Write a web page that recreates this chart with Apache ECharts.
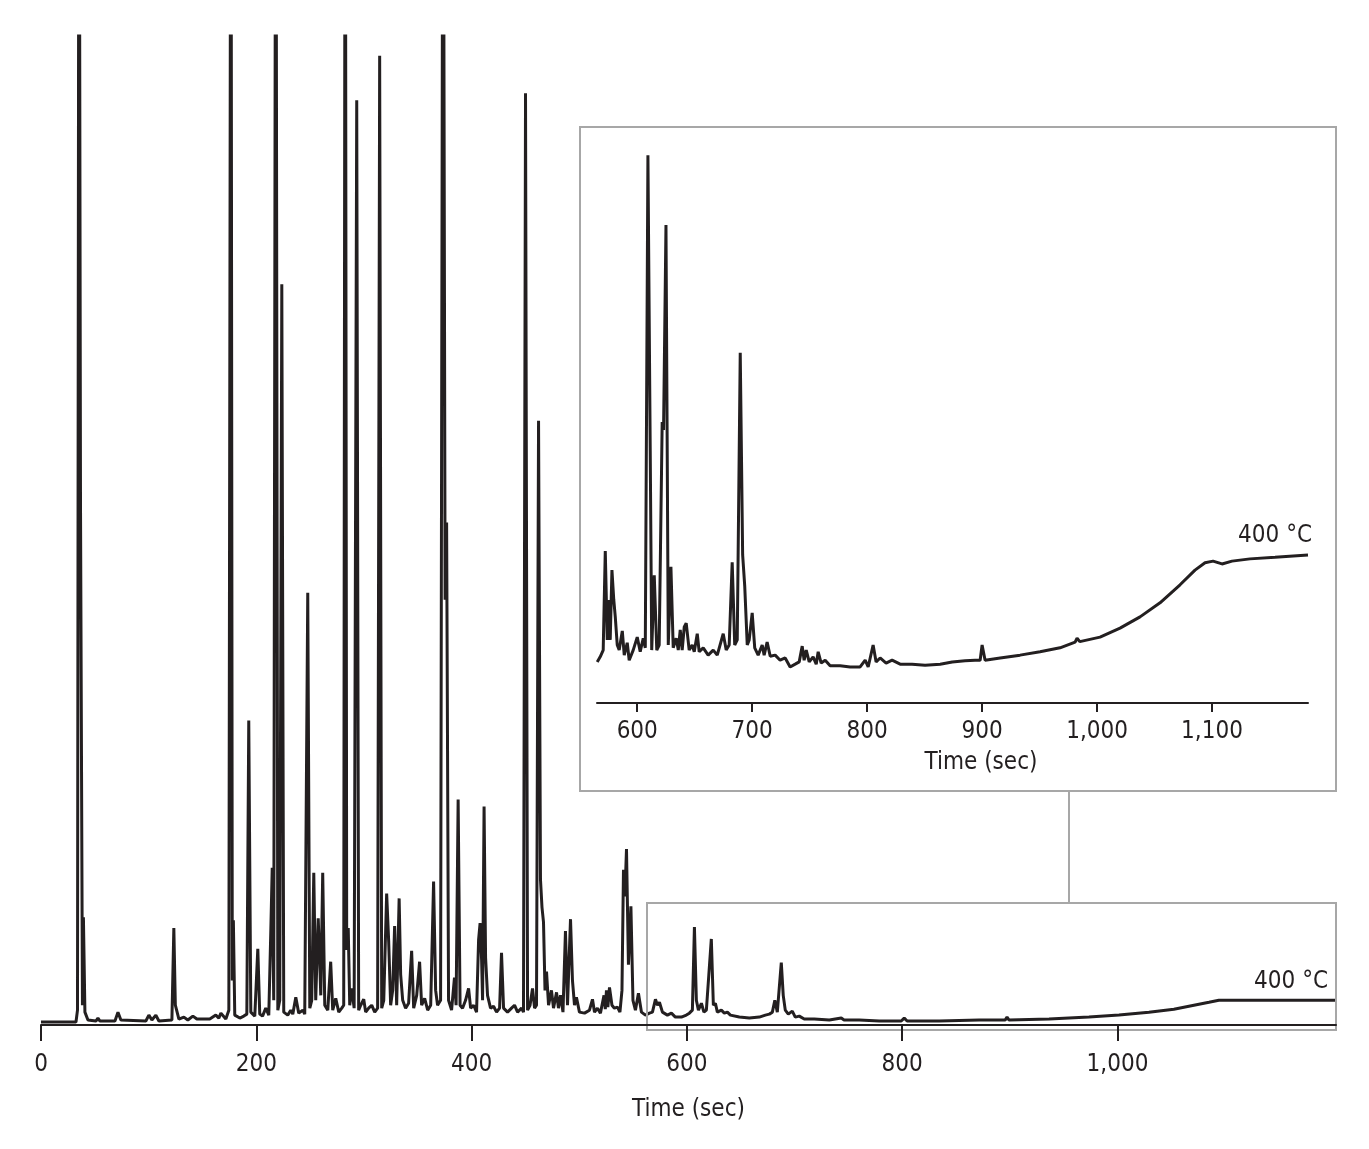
<!DOCTYPE html>
<html>
<head>
<meta charset="utf-8">
<script src="https://cdn.jsdelivr.net/npm/echarts@6/dist/echarts.min.js"></script>
<style>
  html, body { margin: 0; padding: 0; background: #fff; }
  #chart { width: 1369px; height: 1149px; }
</style>
</head>
<body>
<div id="chart"></div>
<script>
// full run, time in seconds and detector signal (arbitrary units, 100 = top of plot)
const mainTime = [
  0, 32.5, 33.9, 35.3, 36.7, 37.6, 38.5, 39.4, 40.8, 43.6, 51.0, 52.9, 54.8, 68.7, 71.5, 74.2,
  97.4, 100.2, 103.0, 106.7, 109.5, 121.6, 123.4, 124.8, 126.2, 128.1, 132.7, 136.4, 141.1, 144.8,
  156.8, 162.4, 165.2, 167.1, 171.7, 174.5, 176.4, 177.7, 178.7, 180.0, 184.7, 188.4, 191.2, 193.0,
  194.9, 198.6, 201.4, 203.2, 205.8, 208.8, 211.6, 213.5, 214.8, 216.2, 218.1, 220.0, 221.8, 223.7,
  225.5, 229.2, 232.0, 233.9, 236.7, 239.4, 243.2, 245.0, 247.8, 249.7, 251.5, 253.4, 255.2, 257.5,
  258.9, 259.9, 261.7, 263.6, 266.4, 269.1, 271.0, 273.8, 276.6, 279.4, 281.2, 282.6, 284.0, 285.4,
  286.8, 288.6, 290.9, 293.3, 295.1, 297.0, 299.8, 301.6, 304.4, 307.2, 310.0, 312.7, 314.6, 316.5,
  318.4, 321.1, 323.0, 324.8, 326.7, 328.5, 330.4, 332.7, 334.1, 336.0, 338.7, 341.5, 344.3, 346.2,
  349.0, 351.7, 353.6, 356.4, 359.2, 362.0, 364.7, 366.6, 368.4, 371.2, 373.5, 375.4, 376.8, 378.6,
  381.4, 384.1, 385.6, 387.5, 389.3, 391.6, 394.4, 397.2, 399.1, 401.9, 404.6, 406.5, 407.9, 409.3,
  410.2, 411.6, 413.0, 414.8, 417.6, 420.4, 423.2, 426.0, 427.8, 429.7, 433.4, 437.1, 439.9, 442.7,
  446.4, 448.2, 450.1, 452.0, 454.3, 456.6, 458.5, 460.3, 462.2, 464.0, 465.4, 466.8, 468.2, 469.6,
  471.5, 474.2, 476.1, 478.9, 480.7, 482.6, 484.9, 487.2, 489.1, 491.9, 493.7, 495.6, 497.4, 500.2,
  504.9, 509.5, 512.3, 514.2, 516.9, 519.7, 523.0, 524.2, 525.3, 526.6, 528.1, 530.4, 532.7, 535.5, 537.8, 539.7,
  541.1, 542.4, 543.9, 545.7, 548.0, 549.9, 552.2, 555.0, 557.8, 561.5, 565.2, 568.0, 570.8, 572.7,
  574.5, 577.3, 581.9, 585.6, 589.3, 594.9, 599.5, 602.3, 605.1, 607.0, 608.8, 610.7, 613.5, 615.8,
  618.1, 620.4, 622.7, 624.6, 626.5, 628.3, 632.0, 634.8, 637.6, 640.4, 648.7, 658.0, 667.3, 672.9,
  676.6, 679.4, 681.7, 684.0, 685.8, 687.7, 689.5, 691.4, 694.2, 697.9, 700.7, 704.4, 709.0, 718.3,
  732.3, 743.4, 746.0, 760.1, 778.7, 799.1, 801.9, 804.6, 834.3, 871.5, 895.6, 897.4, 899.3, 936.4,
  973.5, 1001.4, 1029.2, 1052.4, 1071.0, 1085.0, 1094.2, 1203
];
const mainSignal = [
  0.3, 0.3, 1.5, 140, 52.6, 52.6, 2.0, 10.9, 1.3, 0.5, 0.4, 0.7, 0.4, 0.4, 1.3, 0.5,
  0.4, 1.0, 0.5, 1.0, 0.4, 0.5, 9.8, 2.0, 1.8, 0.6, 0.8, 0.5, 0.9, 0.6,
  0.6, 1.0, 0.7, 1.2, 0.6, 1.5, 140, 4.5, 10.6, 1.0, 0.7, 0.9, 1.1, 30.8,
  1.3, 0.9, 7.7, 1.1, 0.9, 1.7, 1.0, 9.6, 15.9, 2.5, 140, 1.5, 2.5, 74.9,
  1.3, 1.0, 1.5, 1.1, 2.8, 1.2, 1.5, 1.1, 43.7, 1.7, 2.5, 15.4, 2.5, 10.8,
  6.6, 3.0, 15.4, 2.0, 1.5, 6.4, 1.5, 2.7, 1.3, 1.7, 2.0, 140, 7.6, 9.8,
  2.0, 3.7, 1.7, 93.5, 1.5, 2.0, 2.6, 1.3, 1.7, 2.0, 1.3, 1.7, 98.0, 1.7,
  2.5, 13.3, 8.4, 2.0, 3.5, 10.0, 2.0, 12.8, 5.1, 2.5, 1.7, 2.2, 7.5, 1.7,
  3.0, 6.4, 2.0, 2.7, 1.5, 2.0, 14.5, 3.5, 2.0, 2.5, 140, 43.0, 50.8, 2.5,
  1.5, 4.8, 2.0, 22.8, 2.0, 1.7, 2.5, 3.7, 1.7, 2.0, 1.3, 8.6, 10.3, 6.6,
  2.5, 22.1, 6.8, 3.0, 1.7, 1.9, 1.3, 1.7, 7.3, 1.7, 1.3, 1.7, 2.0, 1.3,
  1.7, 1.3, 94.2, 1.5, 2.0, 3.7, 1.7, 2.0, 61.1, 14.7, 11.9, 10.4, 3.5, 5.4,
  2.0, 3.5, 1.7, 3.3, 1.7, 3.0, 1.3, 9.5, 2.0, 10.7, 4.5, 2.0, 2.8, 1.3,
  1.2, 1.5, 2.6, 1.3, 1.7, 1.2, 3.0, 1.6, 3.5, 1.8, 3.8, 2.0, 1.7, 1.8, 1.3, 3.5,
  15.7, 13.0, 17.8, 6.1, 12.0, 2.5, 1.5, 3.2, 1.3, 1.0, 1.2, 1.3, 2.6, 2.0,
  2.3, 1.3, 1.0, 1.2, 0.8, 0.8, 1.0, 1.2, 1.5, 9.9, 2.5, 1.5, 2.2, 1.3,
  1.5, 5.1, 8.7, 2.0, 2.2, 1.3, 1.5, 1.2, 1.3, 1.0, 0.8, 0.7, 0.8, 1.0,
  1.1, 1.3, 2.5, 1.3, 1.5, 6.3, 3.0, 1.5, 1.1, 1.4, 0.8, 0.9, 0.6, 0.6,
  0.5, 0.7, 0.5, 0.5, 0.4, 0.4, 0.7, 0.4, 0.4, 0.5, 0.5, 0.8, 0.5, 0.6,
  0.8, 1.0, 1.3, 1.6, 2.0, 2.3, 2.5, 2.5
];

// expanded view of the late part of the run (own signal scale)
const insetTime = [
  565.2, 567.8, 570.4, 572.2, 573.9, 574.8, 576.5, 578.0, 579.6, 580.9, 582.6, 584.3, 587.0, 588.7,
  591.3, 593.0, 596.5, 600.0, 602.6, 605.2, 607.0, 609.3, 611.3, 612.6, 614.8, 617.0, 619.1, 621.7,
  622.9, 625.0, 627.0, 629.3, 631.3, 633.9, 635.7, 637.4, 639.1, 640.9, 642.6, 645.2, 647.8, 649.6,
  652.2, 653.9, 657.4, 661.7, 666.1, 669.6, 674.8, 677.4, 680.0, 682.6, 684.8, 687.0, 689.6, 691.7,
  693.5, 695.7, 697.4, 700.0, 702.2, 705.2, 708.7, 710.4, 713.0, 715.7, 720.0, 724.3, 728.7, 733.0,
  737.4, 740.9, 743.5, 745.2, 747.0, 749.6, 753.0, 755.7, 757.4, 760.0, 763.5, 767.8, 776.5, 785.2,
  793.9, 798.3, 800.9, 805.2, 807.8, 811.3, 816.5, 821.7, 828.7, 839.1, 850.4, 863.5, 874.0, 885.2,
  893.9, 898.3, 900.0, 902.6, 915.7, 933.0, 950.4, 967.8, 980.9, 982.6, 985.0, 1002.6, 1020.0, 1037.4,
  1054.8, 1072.2, 1085.2, 1093.9, 1100.9, 1108.7, 1117.4, 1133.0, 1154.8, 1183.5
];
const insetSignal = [
  7.3, 8.2, 9.4, 27.0, 11.2, 18.3, 11.2, 23.6, 18.3, 15.3, 10.3, 9.4, 12.8, 8.5,
  10.7, 7.6, 9.4, 11.7, 9.1, 11.5, 9.8, 97.3, 44.9, 9.4, 22.7, 9.4, 10.3, 49.9,
  48.5, 84.9, 10.3, 24.2, 9.8, 11.5, 9.4, 13.0, 9.4, 13.5, 14.2, 9.4, 10.3, 9.1,
  12.3, 9.1, 9.8, 8.5, 9.4, 8.5, 12.3, 9.4, 10.3, 25.0, 10.3, 11.2, 62.2, 26.3,
  20.8, 10.3, 11.2, 16.0, 9.8, 8.5, 10.3, 8.5, 10.8, 8.3, 8.5, 7.6, 8.0, 6.4,
  6.9, 7.3, 10.1, 7.6, 9.4, 7.3, 8.2, 6.9, 9.1, 7.1, 7.6, 6.6, 6.6, 6.4,
  6.4, 7.6, 6.4, 10.3, 7.3, 8.0, 7.1, 7.6, 6.9, 6.9, 6.7, 6.9, 7.3, 7.5,
  7.6, 7.6, 10.3, 7.6, 8.0, 8.5, 9.1, 9.8, 10.8, 11.5, 10.9, 11.7, 13.3, 15.3,
  17.8, 21.0, 23.6, 24.9, 25.2, 24.7, 25.2, 25.6, 25.9, 26.3
];

const mainTicks = [0, 200, 400, 600, 800, 1000];
const insetTicks = [600, 700, 800, 900, 1000, 1100];

const zip = (xs, ys) => xs.map((x, i) => [x, ys[i]]);
const fmt = v => v.toLocaleString('en-US');

const ink = '#231f20';
const boxGray = '#a7a7a7';
const font = "'Liberation Sans Narrow', 'DejaVu Sans Condensed', sans-serif";

const chart = echarts.init(document.getElementById('chart'));

chart.setOption({
  animation: false,
  backgroundColor: '#fff',
  grid: [
    { left: 41, right: 33, top: 36, bottom: 124 },
    { left: 597, right: 61, top: 140, bottom: 446 }
  ],
  xAxis: [
    {
      gridIndex: 0, type: 'value', min: 0, max: 1203, z: 5,
      axisLine: { lineStyle: { color: ink, width: 2 } },
      axisTick: { length: 16, lineStyle: { color: ink, width: 2 }, customValues: mainTicks },
      axisLabel: { color: ink, fontSize: 24, fontFamily: font, margin: 28, formatter: fmt, customValues: mainTicks },
      splitLine: { show: false },
      name: 'Time (sec)', nameLocation: 'middle', nameGap: 73,
      nameTextStyle: { color: ink, fontSize: 24, fontFamily: font }
    },
    {
      gridIndex: 1, type: 'value', min: 565, max: 1183.5, z: 5,
      axisLine: { lineStyle: { color: ink, width: 2 } },
      axisTick: { length: 9, lineStyle: { color: ink, width: 2 }, customValues: insetTicks },
      axisLabel: { color: ink, fontSize: 24, fontFamily: font, margin: 17, formatter: fmt, customValues: insetTicks },
      splitLine: { show: false },
      name: 'Time (sec)', nameLocation: 'middle', nameGap: 48,
      nameTextStyle: { color: ink, fontSize: 24, fontFamily: font, padding: [0, 0, 0, 57] }
    }
  ],
  yAxis: [
    { gridIndex: 0, type: 'value', min: 0, max: 100, show: false },
    { gridIndex: 1, type: 'value', min: 0, max: 100, show: false }
  ],
  graphic: [
    // frame of the expanded view
    { type: 'rect', z: 1, shape: { x: 580, y: 127, width: 756, height: 664 },
      style: { fill: '#fff', stroke: boxGray, lineWidth: 2 } },
    // region marker on the full run
    { type: 'rect', z: 3, shape: { x: 647, y: 903, width: 689, height: 127 },
      style: { fill: null, stroke: boxGray, lineWidth: 2 } },
    { type: 'line', z: 1, shape: { x1: 1069, y1: 791, x2: 1069, y2: 903 },
      style: { stroke: boxGray, lineWidth: 2 } },
    { type: 'text', z: 5, x: 1328, y: 982,
      style: { text: '400 °C', fill: ink, font: '24px ' + font, align: 'right', verticalAlign: 'middle' } },
    { type: 'text', z: 5, x: 1312, y: 536,
      style: { text: '400 °C', fill: ink, font: '24px ' + font, align: 'right', verticalAlign: 'middle' } }
  ],
  series: [
    {
      type: 'line', xAxisIndex: 0, yAxisIndex: 0, data: zip(mainTime, mainSignal),
      showSymbol: false, clip: true, z: 2,
      lineStyle: { color: ink, width: 3, join: 'bevel' }
    },
    {
      type: 'line', xAxisIndex: 1, yAxisIndex: 1, data: zip(insetTime, insetSignal),
      showSymbol: false, clip: true, z: 4,
      lineStyle: { color: ink, width: 3, join: 'bevel' }
    }
  ]
});
</script>
</body>
</html>
